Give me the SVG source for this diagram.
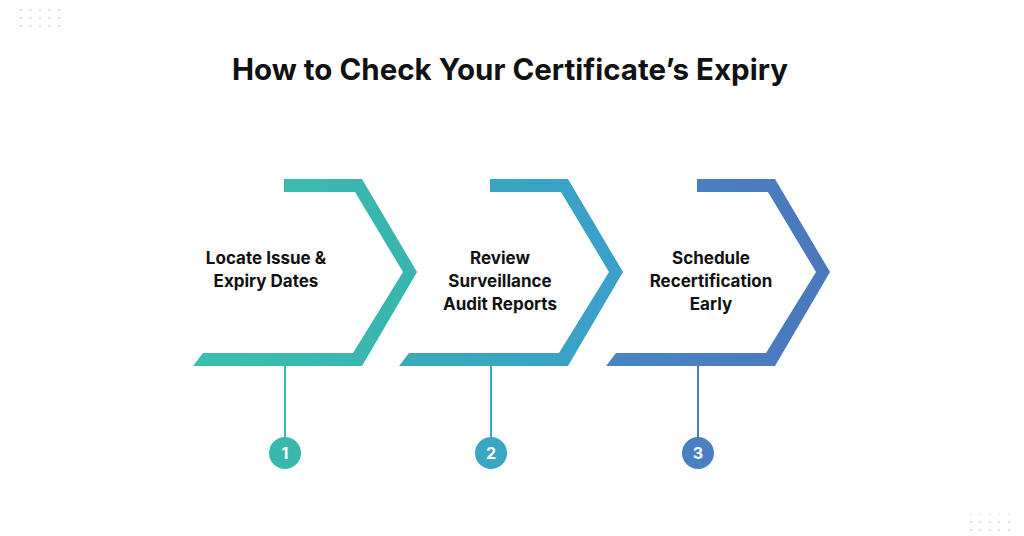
<svg xmlns="http://www.w3.org/2000/svg" width="1024" height="536" viewBox="0 0 1024 536">
<defs>
<style>
.t{font-family:Inter,"Liberation Sans",sans-serif;font-weight:700;font-size:17px;fill:#111;text-anchor:middle}
.n{font-family:Inter,"Liberation Sans",sans-serif;font-weight:700;font-size:16px;fill:#fff;text-anchor:middle}
</style>
<linearGradient id="g1" x1="0" x2="1"><stop offset="0" stop-color="#3cbfae"/><stop offset="1" stop-color="#39b4b0"/></linearGradient>
<linearGradient id="g2" x1="0" x2="1"><stop offset="0" stop-color="#3aaab8"/><stop offset="1" stop-color="#3b9fcc"/></linearGradient>
<linearGradient id="g3" x1="0" x2="1"><stop offset="0" stop-color="#4a85c4"/><stop offset="1" stop-color="#4a78bd"/></linearGradient>
<polygon id="chev" points="284,179 362,179 417,272 362,366 193,366 203,353 353,353 403,272 355,192 284,192"/>
<pattern id="dots" width="9.5" height="8" patternUnits="userSpaceOnUse"><circle cx="2" cy="2" r="1" fill="#d0d0d0"/></pattern>
</defs>
<rect width="1024" height="536" fill="#fff"/>
<rect x="20" y="3" width="47" height="24" fill="url(#dots)"/>
<rect x="967" y="514" width="47" height="22" fill="url(#dots)"/>
<text x="510" y="80" font-family="Inter,'Liberation Sans',sans-serif" font-weight="700" font-size="29.5" fill="#111" text-anchor="middle">How to Check Your Certificate’s Expiry</text>
<g id="connectors">
<line x1="285" y1="366" x2="285" y2="438" stroke="#3bb8ae" stroke-width="2"/>
<line x1="491" y1="366" x2="491" y2="438" stroke="#3aa6c4" stroke-width="2"/>
<line x1="698" y1="366" x2="698" y2="438" stroke="#4a80c1" stroke-width="2"/>
</g>
<g id="step1">
<use href="#chev" fill="url(#g1)"/>
<text class="t" x="266" y="264">Locate Issue &amp;</text>
<text class="t" x="266" y="287">Expiry Dates</text>
<circle cx="285" cy="453" r="16" fill="#3bb8ae"/>
<text class="n" x="285" y="459">1</text>
</g>
<g id="step2">
<use href="#chev" transform="translate(206,0)" fill="url(#g2)"/>
<text class="t" x="500" y="264">Review</text>
<text class="t" x="500" y="287">Surveillance</text>
<text class="t" x="500" y="310">Audit Reports</text>
<circle cx="491" cy="453" r="16" fill="#3aa6c4"/>
<text class="n" x="491" y="459">2</text>
</g>
<g id="step3">
<use href="#chev" transform="translate(413,0)" fill="url(#g3)"/>
<text class="t" x="711" y="264">Schedule</text>
<text class="t" x="711" y="287">Recertification</text>
<text class="t" x="711" y="310">Early</text>
<circle cx="698" cy="453" r="16" fill="#4a80c1"/>
<text class="n" x="698" y="459">3</text>
</g>
</svg>
